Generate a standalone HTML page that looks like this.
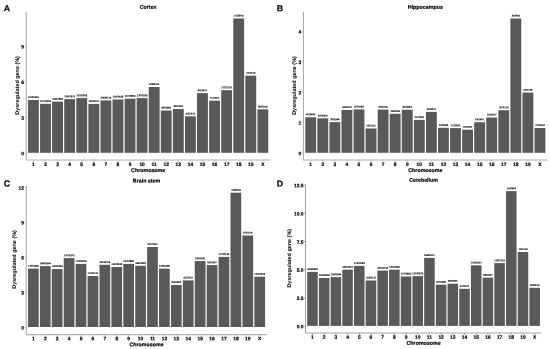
<!DOCTYPE html>
<html lang="en"><head><meta charset="utf-8"><title>Dysregulated genes per chromosome</title>
<style>html,body{margin:0;padding:0;background:#fff}body{width:550px;height:349px;overflow:hidden}svg text{white-space:pre}</style></head>
<body>
<svg width="550" height="349" viewBox="0 0 550 349" style="display:block">
<rect width="550" height="349" fill="#ffffff"/>
<g font-family="'Liberation Sans', sans-serif" font-weight="bold" fill="#000" stroke="#000" stroke-width="0.2" stroke-linejoin="round" text-rendering="geometricPrecision">
<text transform="matrix(1 .0005 0 1 3.75 11.30)" font-size="8.8" stroke-width="0.2">A</text>
<text transform="matrix(1 .0005 0 1 148.14 8.7)" font-size="5.3" text-anchor="middle">Cortex</text>
<g fill="#595959" stroke="none"><rect x="27.98" y="100.00" width="10.87" height="52.80"/><rect x="40.06" y="103.80" width="10.87" height="49.00"/><rect x="52.13" y="101.60" width="10.87" height="51.20"/><rect x="64.21" y="99.10" width="10.87" height="53.70"/><rect x="76.28" y="98.10" width="10.87" height="54.70"/><rect x="88.36" y="103.90" width="10.87" height="48.90"/><rect x="100.44" y="100.40" width="10.87" height="52.40"/><rect x="112.51" y="99.50" width="10.87" height="53.30"/><rect x="124.59" y="98.70" width="10.87" height="54.10"/><rect x="136.66" y="98.10" width="10.87" height="54.70"/><rect x="148.74" y="87.00" width="10.87" height="65.80"/><rect x="160.81" y="110.50" width="10.87" height="42.30"/><rect x="172.89" y="109.00" width="10.87" height="43.80"/><rect x="184.97" y="116.30" width="10.87" height="36.50"/><rect x="197.04" y="93.10" width="10.87" height="59.70"/><rect x="209.12" y="100.65" width="10.87" height="52.15"/><rect x="221.19" y="90.20" width="10.87" height="62.60"/><rect x="233.27" y="18.50" width="10.87" height="134.30"/><rect x="245.34" y="75.70" width="10.87" height="77.10"/><rect x="257.42" y="109.30" width="10.87" height="43.50"/></g>
<g font-size="2.6" text-anchor="middle" stroke-width="0.1"><text transform="matrix(1 .0005 0 1 33.42 98.10)">153/3442</text><text transform="matrix(1 .0005 0 1 45.49 101.90)">157/3804</text><text transform="matrix(1 .0005 0 1 57.57 99.70)">124/2864</text><text transform="matrix(1 .0005 0 1 69.64 97.20)">130/2873</text><text transform="matrix(1 .0005 0 1 81.72 96.20)">152/3286</text><text transform="matrix(1 .0005 0 1 93.79 102.00)">129/3131</text><text transform="matrix(1 .0005 0 1 105.87 98.50)">208/4714</text><text transform="matrix(1 .0005 0 1 117.95 97.60)">119/2638</text><text transform="matrix(1 .0005 0 1 130.02 96.80)">132/2893</text><text transform="matrix(1 .0005 0 1 142.10 96.20)">130/2828</text><text transform="matrix(1 .0005 0 1 154.17 85.10)">184/3311</text><text transform="matrix(1 .0005 0 1 166.25 108.60)">89/2488</text><text transform="matrix(1 .0005 0 1 178.32 107.10)">95/2583</text><text transform="matrix(1 .0005 0 1 190.40 114.40)">63/2032</text><text transform="matrix(1 .0005 0 1 202.48 91.20)">96/1901</text><text transform="matrix(1 .0005 0 1 214.55 98.75)">71/1607</text><text transform="matrix(1 .0005 0 1 226.63 88.30)">112/2118</text><text transform="matrix(1 .0005 0 1 238.70 16.60)">102/904</text><text transform="matrix(1 .0005 0 1 250.78 73.80)">72/1106</text><text transform="matrix(1 .0005 0 1 262.85 107.40)">96/2614</text></g>
<g stroke="#b2b2b2" stroke-width="1.2" fill="none">
<path d="M26.25 11.70V160.00H270.10"/>
<path stroke-width="0.8" d="M24.65 153.15H26.25M24.65 117.58H26.25M24.65 82.01H26.25M24.65 46.45H26.25M33.42 160.00V161.60M45.49 160.00V161.60M57.57 160.00V161.60M69.64 160.00V161.60M81.72 160.00V161.60M93.79 160.00V161.60M105.87 160.00V161.60M117.95 160.00V161.60M130.02 160.00V161.60M142.10 160.00V161.60M154.17 160.00V161.60M166.25 160.00V161.60M178.32 160.00V161.60M190.40 160.00V161.60M202.48 160.00V161.60M214.55 160.00V161.60M226.63 160.00V161.60M238.70 160.00V161.60M250.78 160.00V161.60M262.85 160.00V161.60"/>
</g>
<g font-size="4.9" text-anchor="end"><text transform="matrix(1 .0005 0 1 23.87 155.25)">0</text><text transform="matrix(1 .0005 0 1 23.87 119.68)">3</text><text transform="matrix(1 .0005 0 1 23.87 84.11)">6</text><text transform="matrix(1 .0005 0 1 23.87 48.55)">9</text></g>
<g font-size="4.9" text-anchor="middle"><text transform="matrix(1 .0005 0 1 33.42 165.90)">1</text><text transform="matrix(1 .0005 0 1 45.49 165.90)">2</text><text transform="matrix(1 .0005 0 1 57.57 165.90)">3</text><text transform="matrix(1 .0005 0 1 69.64 165.90)">4</text><text transform="matrix(1 .0005 0 1 81.72 165.90)">5</text><text transform="matrix(1 .0005 0 1 93.79 165.90)">6</text><text transform="matrix(1 .0005 0 1 105.87 165.90)">7</text><text transform="matrix(1 .0005 0 1 117.95 165.90)">8</text><text transform="matrix(1 .0005 0 1 130.02 165.90)">9</text><text transform="matrix(1 .0005 0 1 142.10 165.90)">10</text><text transform="matrix(1 .0005 0 1 154.17 165.90)">11</text><text transform="matrix(1 .0005 0 1 166.25 165.90)">12</text><text transform="matrix(1 .0005 0 1 178.32 165.90)">13</text><text transform="matrix(1 .0005 0 1 190.40 165.90)">14</text><text transform="matrix(1 .0005 0 1 202.48 165.90)">15</text><text transform="matrix(1 .0005 0 1 214.55 165.90)">16</text><text transform="matrix(1 .0005 0 1 226.63 165.90)">17</text><text transform="matrix(1 .0005 0 1 238.70 165.90)">18</text><text transform="matrix(1 .0005 0 1 250.78 165.90)">19</text><text transform="matrix(1 .0005 0 1 262.85 165.90)">X</text></g>
<text transform="matrix(1 .0005 0 1 148.14 172.1)" font-size="5.3" text-anchor="middle">Chromosome</text>
<text transform="translate(19.05 85.4) rotate(-90)" font-size="5.44" text-anchor="middle" stroke="none">Dysregulated gene (%)</text>
</g>
<g font-family="'Liberation Sans', sans-serif" font-weight="bold" fill="#000" stroke="#000" stroke-width="0.2" stroke-linejoin="round" text-rendering="geometricPrecision">
<text transform="matrix(1 .0005 0 1 276.85 11.30)" font-size="8.8" stroke-width="0.2">B</text>
<text transform="matrix(1 .0005 0 1 425.34 8.8)" font-size="5.3" text-anchor="middle">Hippocampus</text>
<g fill="#595959" stroke="none"><rect x="305.29" y="117.25" width="10.86" height="35.55"/><rect x="317.36" y="118.30" width="10.86" height="34.50"/><rect x="329.42" y="122.10" width="10.86" height="30.70"/><rect x="341.49" y="110.00" width="10.86" height="42.80"/><rect x="353.55" y="109.40" width="10.86" height="43.40"/><rect x="365.62" y="128.50" width="10.86" height="24.30"/><rect x="377.68" y="109.60" width="10.86" height="43.20"/><rect x="389.75" y="113.80" width="10.86" height="39.00"/><rect x="401.81" y="109.75" width="10.86" height="43.05"/><rect x="413.88" y="119.90" width="10.86" height="32.90"/><rect x="425.94" y="111.90" width="10.86" height="40.90"/><rect x="438.01" y="127.80" width="10.86" height="25.00"/><rect x="450.07" y="128.10" width="10.86" height="24.70"/><rect x="462.14" y="129.70" width="10.86" height="23.10"/><rect x="474.20" y="122.20" width="10.86" height="30.60"/><rect x="486.27" y="117.50" width="10.86" height="35.30"/><rect x="498.34" y="110.20" width="10.86" height="42.60"/><rect x="510.40" y="18.50" width="10.86" height="134.30"/><rect x="522.47" y="92.60" width="10.86" height="60.20"/><rect x="534.53" y="128.00" width="10.86" height="24.80"/></g>
<g font-size="2.6" text-anchor="middle" stroke-width="0.1"><text transform="matrix(1 .0005 0 1 310.72 115.35)">40/3442</text><text transform="matrix(1 .0005 0 1 322.78 116.40)">43/3804</text><text transform="matrix(1 .0005 0 1 334.85 120.20)">29/2864</text><text transform="matrix(1 .0005 0 1 346.92 108.10)">40/2873</text><text transform="matrix(1 .0005 0 1 358.98 107.50)">47/3286</text><text transform="matrix(1 .0005 0 1 371.05 126.60)">25/3131</text><text transform="matrix(1 .0005 0 1 383.11 107.70)">67/4714</text><text transform="matrix(1 .0005 0 1 395.18 111.90)">34/2638</text><text transform="matrix(1 .0005 0 1 407.24 107.85)">41/2893</text><text transform="matrix(1 .0005 0 1 419.31 118.00)">31/2828</text><text transform="matrix(1 .0005 0 1 431.37 110.00)">45/3311</text><text transform="matrix(1 .0005 0 1 443.44 125.90)">20/2488</text><text transform="matrix(1 .0005 0 1 455.50 126.20)">21/2583</text><text transform="matrix(1 .0005 0 1 467.57 127.80)">15/2032</text><text transform="matrix(1 .0005 0 1 479.63 120.30)">19/1901</text><text transform="matrix(1 .0005 0 1 491.70 115.60)">19/1607</text><text transform="matrix(1 .0005 0 1 503.76 108.30)">30/2118</text><text transform="matrix(1 .0005 0 1 515.83 16.60)">40/904</text><text transform="matrix(1 .0005 0 1 527.90 90.70)">22/1106</text><text transform="matrix(1 .0005 0 1 539.96 126.10)">21/2614</text></g>
<g stroke="#adadad" stroke-width="1.1" fill="none">
<path d="M303.45 11.70V160.00H547.20"/>
<path stroke-width="0.8" d="M301.85 153.15H303.45M301.85 122.72H303.45M301.85 92.29H303.45M301.85 61.86H303.45M301.85 31.43H303.45M310.72 160.00V161.60M322.78 160.00V161.60M334.85 160.00V161.60M346.92 160.00V161.60M358.98 160.00V161.60M371.05 160.00V161.60M383.11 160.00V161.60M395.18 160.00V161.60M407.24 160.00V161.60M419.31 160.00V161.60M431.37 160.00V161.60M443.44 160.00V161.60M455.50 160.00V161.60M467.57 160.00V161.60M479.63 160.00V161.60M491.70 160.00V161.60M503.76 160.00V161.60M515.83 160.00V161.60M527.90 160.00V161.60M539.96 160.00V161.60"/>
</g>
<g font-size="4.9" text-anchor="end"><text transform="matrix(1 .0005 0 1 301.18 155.25)">0</text><text transform="matrix(1 .0005 0 1 301.18 124.82)">1</text><text transform="matrix(1 .0005 0 1 301.18 94.39)">2</text><text transform="matrix(1 .0005 0 1 301.18 63.96)">3</text><text transform="matrix(1 .0005 0 1 301.18 33.53)">4</text></g>
<g font-size="4.9" text-anchor="middle"><text transform="matrix(1 .0005 0 1 310.72 165.90)">1</text><text transform="matrix(1 .0005 0 1 322.78 165.90)">2</text><text transform="matrix(1 .0005 0 1 334.85 165.90)">3</text><text transform="matrix(1 .0005 0 1 346.92 165.90)">4</text><text transform="matrix(1 .0005 0 1 358.98 165.90)">5</text><text transform="matrix(1 .0005 0 1 371.05 165.90)">6</text><text transform="matrix(1 .0005 0 1 383.11 165.90)">7</text><text transform="matrix(1 .0005 0 1 395.18 165.90)">8</text><text transform="matrix(1 .0005 0 1 407.24 165.90)">9</text><text transform="matrix(1 .0005 0 1 419.31 165.90)">10</text><text transform="matrix(1 .0005 0 1 431.37 165.90)">11</text><text transform="matrix(1 .0005 0 1 443.44 165.90)">12</text><text transform="matrix(1 .0005 0 1 455.50 165.90)">13</text><text transform="matrix(1 .0005 0 1 467.57 165.90)">14</text><text transform="matrix(1 .0005 0 1 479.63 165.90)">15</text><text transform="matrix(1 .0005 0 1 491.70 165.90)">16</text><text transform="matrix(1 .0005 0 1 503.76 165.90)">17</text><text transform="matrix(1 .0005 0 1 515.83 165.90)">18</text><text transform="matrix(1 .0005 0 1 527.90 165.90)">19</text><text transform="matrix(1 .0005 0 1 539.96 165.90)">X</text></g>
<text transform="matrix(1 .0005 0 1 425.34 172.1)" font-size="5.3" text-anchor="middle">Chromosome</text>
<text transform="translate(296.15 85.5) rotate(-90)" font-size="5.44" text-anchor="middle" stroke="none">Dysregulated gene (%)</text>
</g>
<g font-family="'Liberation Sans', sans-serif" font-weight="bold" fill="#000" stroke="#000" stroke-width="0.2" stroke-linejoin="round" text-rendering="geometricPrecision">
<text transform="matrix(1 .0005 0 1 3.75 186.60)" font-size="8.8" stroke-width="0.2">C</text>
<text transform="matrix(1 .0005 0 1 146.53 182.6)" font-size="5.3" text-anchor="middle">Brain stem</text>
<g fill="#595959" stroke="none"><rect x="27.99" y="268.60" width="10.72" height="58.40"/><rect x="39.90" y="266.10" width="10.72" height="60.90"/><rect x="51.81" y="269.00" width="10.72" height="58.00"/><rect x="63.73" y="258.10" width="10.72" height="68.90"/><rect x="75.64" y="263.90" width="10.72" height="63.10"/><rect x="87.55" y="276.00" width="10.72" height="51.00"/><rect x="99.47" y="264.80" width="10.72" height="62.20"/><rect x="111.38" y="267.00" width="10.72" height="60.00"/><rect x="123.29" y="263.90" width="10.72" height="63.10"/><rect x="135.21" y="265.80" width="10.72" height="61.20"/><rect x="147.12" y="247.00" width="10.72" height="80.00"/><rect x="159.03" y="268.65" width="10.72" height="58.35"/><rect x="170.95" y="285.00" width="10.72" height="42.00"/><rect x="182.86" y="280.40" width="10.72" height="46.60"/><rect x="194.77" y="261.05" width="10.72" height="65.95"/><rect x="206.69" y="265.05" width="10.72" height="61.95"/><rect x="218.60" y="256.90" width="10.72" height="70.10"/><rect x="230.51" y="192.70" width="10.72" height="134.30"/><rect x="242.43" y="235.50" width="10.72" height="91.50"/><rect x="254.34" y="276.70" width="10.72" height="50.30"/></g>
<g font-size="2.6" text-anchor="middle" stroke-width="0.1"><text transform="matrix(1 .0005 0 1 33.35 266.70)">173/3442</text><text transform="matrix(1 .0005 0 1 45.26 264.20)">199/3804</text><text transform="matrix(1 .0005 0 1 57.17 267.10)">143/2864</text><text transform="matrix(1 .0005 0 1 69.09 256.20)">170/2873</text><text transform="matrix(1 .0005 0 1 81.00 262.00)">178/3286</text><text transform="matrix(1 .0005 0 1 92.91 274.10)">137/3131</text><text transform="matrix(1 .0005 0 1 104.83 262.90)">252/4714</text><text transform="matrix(1 .0005 0 1 116.74 265.10)">136/2638</text><text transform="matrix(1 .0005 0 1 128.65 262.00)">157/2893</text><text transform="matrix(1 .0005 0 1 140.57 263.90)">149/2828</text><text transform="matrix(1 .0005 0 1 152.48 245.10)">227/3311</text><text transform="matrix(1 .0005 0 1 164.40 266.75)">125/2488</text><text transform="matrix(1 .0005 0 1 176.31 283.10)">93/2583</text><text transform="matrix(1 .0005 0 1 188.22 278.50)">81/2032</text><text transform="matrix(1 .0005 0 1 200.14 259.15)">108/1901</text><text transform="matrix(1 .0005 0 1 212.05 263.15)">85/1607</text><text transform="matrix(1 .0005 0 1 223.96 255.00)">127/2118</text><text transform="matrix(1 .0005 0 1 235.88 190.80)">104/904</text><text transform="matrix(1 .0005 0 1 247.79 233.60)">87/1106</text><text transform="matrix(1 .0005 0 1 259.70 274.80)">113/2614</text></g>
<g stroke="#b2b2b2" stroke-width="1.2" fill="none">
<path d="M26.25 185.90V334.65H266.85"/>
<path stroke-width="0.8" d="M24.65 327.35H26.25M24.65 292.40H26.25M24.65 257.45H26.25M24.65 222.50H26.25M24.65 187.55H26.25M33.35 334.65V336.25M45.26 334.65V336.25M57.17 334.65V336.25M69.09 334.65V336.25M81.00 334.65V336.25M92.91 334.65V336.25M104.83 334.65V336.25M116.74 334.65V336.25M128.65 334.65V336.25M140.57 334.65V336.25M152.48 334.65V336.25M164.40 334.65V336.25M176.31 334.65V336.25M188.22 334.65V336.25M200.14 334.65V336.25M212.05 334.65V336.25M223.96 334.65V336.25M235.88 334.65V336.25M247.79 334.65V336.25M259.70 334.65V336.25"/>
</g>
<g font-size="4.9" text-anchor="end"><text transform="matrix(1 .0005 0 1 23.90 329.45)">0</text><text transform="matrix(1 .0005 0 1 23.90 294.50)">3</text><text transform="matrix(1 .0005 0 1 23.90 259.55)">6</text><text transform="matrix(1 .0005 0 1 23.90 224.60)">9</text><text transform="matrix(1 .0005 0 1 23.90 189.65)">12</text></g>
<g font-size="4.9" text-anchor="middle"><text transform="matrix(1 .0005 0 1 33.35 340.30)">1</text><text transform="matrix(1 .0005 0 1 45.26 340.30)">2</text><text transform="matrix(1 .0005 0 1 57.17 340.30)">3</text><text transform="matrix(1 .0005 0 1 69.09 340.30)">4</text><text transform="matrix(1 .0005 0 1 81.00 340.30)">5</text><text transform="matrix(1 .0005 0 1 92.91 340.30)">6</text><text transform="matrix(1 .0005 0 1 104.83 340.30)">7</text><text transform="matrix(1 .0005 0 1 116.74 340.30)">8</text><text transform="matrix(1 .0005 0 1 128.65 340.30)">9</text><text transform="matrix(1 .0005 0 1 140.57 340.30)">10</text><text transform="matrix(1 .0005 0 1 152.48 340.30)">11</text><text transform="matrix(1 .0005 0 1 164.40 340.30)">12</text><text transform="matrix(1 .0005 0 1 176.31 340.30)">13</text><text transform="matrix(1 .0005 0 1 188.22 340.30)">14</text><text transform="matrix(1 .0005 0 1 200.14 340.30)">15</text><text transform="matrix(1 .0005 0 1 212.05 340.30)">16</text><text transform="matrix(1 .0005 0 1 223.96 340.30)">17</text><text transform="matrix(1 .0005 0 1 235.88 340.30)">18</text><text transform="matrix(1 .0005 0 1 247.79 340.30)">19</text><text transform="matrix(1 .0005 0 1 259.70 340.30)">X</text></g>
<text transform="matrix(1 .0005 0 1 146.53 346.3)" font-size="5.3" text-anchor="middle">Chromosome</text>
<text transform="translate(16.1 259.45) rotate(-90)" font-size="5.44" text-anchor="middle" stroke="none">Dysregulated gene (%)</text>
</g>
<g font-family="'Liberation Sans', sans-serif" font-weight="bold" fill="#000" stroke="#000" stroke-width="0.2" stroke-linejoin="round" text-rendering="geometricPrecision">
<text transform="matrix(1 .0005 0 1 276.85 186.60)" font-size="8.8" stroke-width="0.2">D</text>
<text transform="matrix(1 .0005 0 1 423.58 181.7)" font-size="5.3" text-anchor="middle">Cerebellum</text>
<g fill="#595959" stroke="none"><rect x="307.20" y="271.90" width="10.53" height="54.00"/><rect x="318.90" y="278.00" width="10.53" height="47.90"/><rect x="330.60" y="277.10" width="10.53" height="48.80"/><rect x="342.29" y="269.70" width="10.53" height="56.20"/><rect x="353.99" y="265.90" width="10.53" height="60.00"/><rect x="365.68" y="280.50" width="10.53" height="45.40"/><rect x="377.38" y="270.60" width="10.53" height="55.30"/><rect x="389.07" y="269.70" width="10.53" height="56.20"/><rect x="400.77" y="276.50" width="10.53" height="49.40"/><rect x="412.46" y="276.10" width="10.53" height="49.80"/><rect x="424.16" y="257.90" width="10.53" height="68.00"/><rect x="435.86" y="284.70" width="10.53" height="41.20"/><rect x="447.55" y="283.70" width="10.53" height="42.20"/><rect x="459.25" y="288.80" width="10.53" height="37.10"/><rect x="470.94" y="265.30" width="10.53" height="60.60"/><rect x="482.64" y="277.70" width="10.53" height="48.20"/><rect x="494.33" y="263.10" width="10.53" height="62.80"/><rect x="506.03" y="191.10" width="10.53" height="134.80"/><rect x="517.72" y="252.00" width="10.53" height="73.90"/><rect x="529.42" y="287.80" width="10.53" height="38.10"/></g>
<g font-size="2.6" text-anchor="middle" stroke-width="0.1"><text transform="matrix(1 .0005 0 1 312.47 270.00)">165/3442</text><text transform="matrix(1 .0005 0 1 324.16 276.10)">161/3804</text><text transform="matrix(1 .0005 0 1 335.86 275.20)">124/2864</text><text transform="matrix(1 .0005 0 1 347.55 267.80)">143/2873</text><text transform="matrix(1 .0005 0 1 359.25 264.00)">175/3286</text><text transform="matrix(1 .0005 0 1 370.95 278.60)">126/3131</text><text transform="matrix(1 .0005 0 1 382.64 268.70)">231/4714</text><text transform="matrix(1 .0005 0 1 394.34 267.80)">131/2638</text><text transform="matrix(1 .0005 0 1 406.03 274.60)">127/2893</text><text transform="matrix(1 .0005 0 1 417.73 274.20)">125/2828</text><text transform="matrix(1 .0005 0 1 429.42 256.00)">199/3311</text><text transform="matrix(1 .0005 0 1 441.12 282.80)">91/2488</text><text transform="matrix(1 .0005 0 1 452.81 281.80)">96/2583</text><text transform="matrix(1 .0005 0 1 464.51 286.90)">67/2032</text><text transform="matrix(1 .0005 0 1 476.20 263.40)">102/1901</text><text transform="matrix(1 .0005 0 1 487.90 275.80)">69/1607</text><text transform="matrix(1 .0005 0 1 499.60 261.20)">118/2118</text><text transform="matrix(1 .0005 0 1 511.29 189.20)">108/904</text><text transform="matrix(1 .0005 0 1 522.99 250.10)">72/1106</text><text transform="matrix(1 .0005 0 1 534.68 285.90)">88/2614</text></g>
<g stroke="#858585" stroke-width="0.75" fill="none">
<path d="M305.50 184.30V333.00H541.70"/>
<path stroke-width="0.8" d="M303.90 326.25H305.50M303.90 298.01H305.50M303.90 269.77H305.50M303.90 241.53H305.50M303.90 213.29H305.50M303.90 185.05H305.50M312.47 333.00V334.60M324.16 333.00V334.60M335.86 333.00V334.60M347.55 333.00V334.60M359.25 333.00V334.60M370.95 333.00V334.60M382.64 333.00V334.60M394.34 333.00V334.60M406.03 333.00V334.60M417.73 333.00V334.60M429.42 333.00V334.60M441.12 333.00V334.60M452.81 333.00V334.60M464.51 333.00V334.60M476.20 333.00V334.60M487.90 333.00V334.60M499.60 333.00V334.60M511.29 333.00V334.60M522.99 333.00V334.60M534.68 333.00V334.60"/>
</g>
<g font-size="4.9" text-anchor="end"><text transform="matrix(1 .0005 0 1 303.45 328.35)">0.0</text><text transform="matrix(1 .0005 0 1 303.45 300.11)">2.5</text><text transform="matrix(1 .0005 0 1 303.45 271.87)">5.0</text><text transform="matrix(1 .0005 0 1 303.45 243.63)">7.5</text><text transform="matrix(1 .0005 0 1 303.45 215.39)">10.0</text><text transform="matrix(1 .0005 0 1 303.45 187.15)">12.5</text></g>
<g font-size="4.9" text-anchor="middle"><text transform="matrix(1 .0005 0 1 312.47 338.80)">1</text><text transform="matrix(1 .0005 0 1 324.16 338.80)">2</text><text transform="matrix(1 .0005 0 1 335.86 338.80)">3</text><text transform="matrix(1 .0005 0 1 347.55 338.80)">4</text><text transform="matrix(1 .0005 0 1 359.25 338.80)">5</text><text transform="matrix(1 .0005 0 1 370.95 338.80)">6</text><text transform="matrix(1 .0005 0 1 382.64 338.80)">7</text><text transform="matrix(1 .0005 0 1 394.34 338.80)">8</text><text transform="matrix(1 .0005 0 1 406.03 338.80)">9</text><text transform="matrix(1 .0005 0 1 417.73 338.80)">10</text><text transform="matrix(1 .0005 0 1 429.42 338.80)">11</text><text transform="matrix(1 .0005 0 1 441.12 338.80)">12</text><text transform="matrix(1 .0005 0 1 452.81 338.80)">13</text><text transform="matrix(1 .0005 0 1 464.51 338.80)">14</text><text transform="matrix(1 .0005 0 1 476.20 338.80)">15</text><text transform="matrix(1 .0005 0 1 487.90 338.80)">16</text><text transform="matrix(1 .0005 0 1 499.60 338.80)">17</text><text transform="matrix(1 .0005 0 1 511.29 338.80)">18</text><text transform="matrix(1 .0005 0 1 522.99 338.80)">19</text><text transform="matrix(1 .0005 0 1 534.68 338.80)">X</text></g>
<text transform="matrix(1 .0005 0 1 423.58 344.8)" font-size="5.3" text-anchor="middle">Chromosome</text>
<text transform="translate(291.0 258.25) rotate(-90)" font-size="5.44" text-anchor="middle" stroke="none">Dysregulated gene (%)</text>
</g>
</svg>
</body></html>
